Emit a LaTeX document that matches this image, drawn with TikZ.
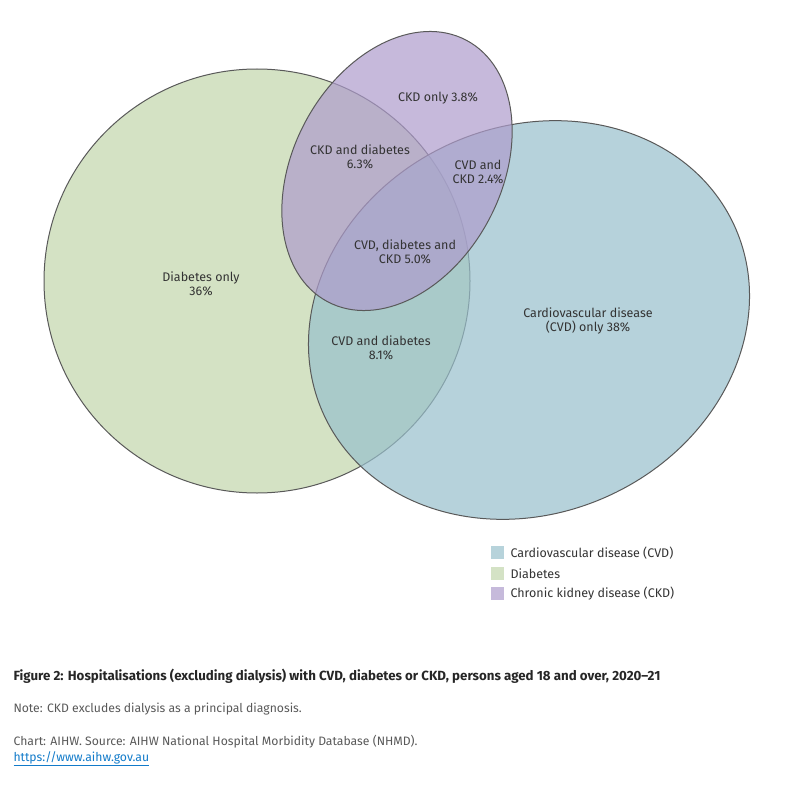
\documentclass[tikz,border=0pt]{standalone}
\usepackage{fontspec}
\setmainfont{Fira Sans}
\begin{document}
\begin{tikzpicture}[x=1pt,y=-1pt,
  lbl/.style={font=\fontsize{12.5}{14.5}\selectfont,text=black!80,align=center},
  set/.style={draw=black!65,line width=1pt,fill opacity=0.7}]
\useasboundingbox (0,0) rectangle (800,800);
\fill[white] (0,0) rectangle (800,800);
\definecolor{cgreen}{HTML}{C2D6AC}
\definecolor{cblue}{HTML}{98C0CC}
\definecolor{cpurple}{HTML}{AE9CCC}
\path[set,fill=cgreen] (257,281) ellipse[x radius=213,y radius=212];
\path[set,fill=cblue] (529,320) ellipse[x radius=226,y radius=193,rotate=25];
\path[set,fill=cpurple] (397,171) ellipse[x radius=148,y radius=104,rotate=62];
\node[lbl] (ckd) at (438,98) {CKD only 3.8\%};
\node[lbl] (ckdd) at (360,157) {CKD and diabetes\\6.3\%};
\node[lbl] (cvdc) at (478,172) {CVD and\\CKD 2.4\%};
\node[lbl] (all) at (405,252) {CVD, diabetes and\\CKD 5.0\%};
\node[lbl] (dia) at (201,284) {Diabetes only\\36\%};
\node[lbl] (cvdd) at (381,348) {CVD and diabetes\\8.1\%};
\node[lbl] (cvd) at (588,321) {Cardiovascular disease\\(CVD) only 38\%};
\fill[cblue!70] (491,546) rectangle (504,559);
\fill[cgreen!70] (491,567) rectangle (504,580);
\fill[cpurple!70] (491,587) rectangle (504,600);
\node[lbl,anchor=west] (l1) at (507,553) {Cardiovascular disease (CVD)};
\node[lbl,anchor=west] (l2) at (507,574) {Diabetes};
\node[lbl,anchor=west] (l3) at (507,594) {Chronic kidney disease (CKD)};
\node[anchor=west,font=\fontsize{13.3}{15}\selectfont\bfseries,text=black!85] (t) at (10,676) {Figure 2: Hospitalisations (excluding dialysis) with CVD, diabetes or CKD, persons aged 18 and over, 2020--21};
\node[anchor=west,font=\fontsize{12.2}{14}\selectfont,text=black!65] (n) at (10,709) {Note: CKD excludes dialysis as a principal diagnosis.};
\node[anchor=west,font=\fontsize{12.2}{14}\selectfont,text=black!65] (s) at (10,742) {Chart: AIHW. Source: AIHW National Hospital Morbidity Database (NHMD).};
\node[anchor=west,font=\fontsize{12.2}{14}\selectfont,text=cyan!60!blue] (u) at (10,759) {\underline{https://www.aihw.gov.au}};
\end{tikzpicture}
\end{document}
